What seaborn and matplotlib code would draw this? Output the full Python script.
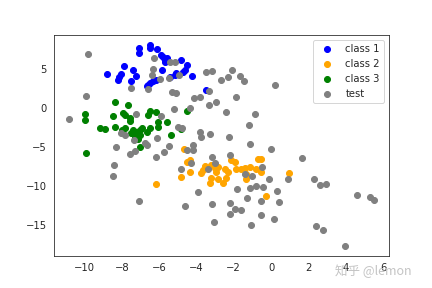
import matplotlib
matplotlib.use("Agg")
import matplotlib.pyplot as plt
import seaborn as sns
import pandas as pd

# class 1 (blue)
c1_x = [-7.07, -7.09, -6.50, -6.50, -6.11, -5.87, -5.79, -5.70, -5.60, -5.70, -4.80, -4.53,
        -4.72, -5.07, -5.16, -4.24, -5.82, -6.14, -6.32, -6.50, -6.59, -6.67, -7.39, -7.25,
        -7.48, -7.89, -8.06, -8.14, -8.19, -8.78, -3.47, -5.43, -4.59]
c1_y = [7.67, 7.02, 8.10, 7.67, 7.58, 6.80, 6.58, 6.14, 6.37, 5.92, 6.14, 5.49,
        4.61, 4.48, 4.31, 4.18, 4.84, 3.62, 3.44, 3.18, 3.01, 2.88, 4.93, 4.18,
        3.44, 5.36, 4.41, 3.96, 3.62, 4.41, 2.31, 3.96, 4.84]

# class 2 (orange)
c2_x = [-6.14, -4.66, -4.53, -4.36, -4.36, -4.84, -3.73, -3.65, -3.56, -3.20, -3.02, -2.84,
        -2.93, -3.20, -3.29, -2.84, -2.58, -2.40, -2.49, -2.31, -2.13, -1.95, -1.86, -1.59,
        -1.42, -1.33, -1.33, -1.15, -0.71, -0.52, -0.79, -0.52, -0.26, 0.95]
c2_y = [-9.71, -5.23, -6.93, -6.67, -8.10, -8.85, -8.24, -7.97, -7.45, -7.32, -7.71, -7.58,
        -8.20, -8.89, -9.54, -9.06, -9.54, -8.89, -7.78, -8.20, -6.60, -6.93, -7.78, -7.80,
        -7.67, -8.41, -9.06, -7.58, -6.54, -6.54, -7.84, -8.20, -11.24, -8.24]

# class 3 (green)
c3_x = [-8.37, -7.66, -7.93, -7.83, -7.57, -7.57, -8.46, -8.37, -9.17, -8.90, -9.97, -9.97,
        -6.50, -6.14, -6.59, -6.05, -5.60, -6.05, -6.50, -6.67, -6.94, -7.03, -7.03, -7.21,
        -7.39, -7.48, -7.83, -8.01, -7.30, -7.12, -5.34, -4.80, -4.53, -9.90, -7.03]
c3_y = [0.82, 0.39, -0.61, -0.82, -1.27, -1.61, -1.05, -2.35, -2.48, -2.65, -0.75, -1.48,
        -0.39, -0.48, -0.82, -1.79, -1.79, -2.35, -2.58, -3.01, -2.58, -2.78, -3.44, -3.01,
        -2.78, -3.23, -2.58, -2.78, -3.66, -3.96, -3.44, -2.65, -0.39, -5.79, -4.93]

# test (grey)
t_x = [-9.80, -6.28, -6.32, -6.37, -5.93, -7.53, -6.60, -9.90, -10.83, -7.26, -5.89, -8.06,
       -7.80, -7.35, -6.73, -6.11, -8.29, -5.43, -5.12, -4.95, -5.48, -3.47, -3.14, -2.10,
       -2.66, -2.31, -1.65, -1.45, 0.21, -3.30, -5.30, -5.07, -4.13, -3.80, -1.90, -3.33,
       -2.93, -5.20, -4.36, -2.43, -0.87, -4.98, -4.77, -3.81, -3.74, -3.26, -2.26, -1.19,
       -1.12, -5.45, -4.20, 0.01, -7.58, -7.29, -6.67, -6.19, -5.72, -8.41, -8.46, -7.07,
       -4.52, -4.18, -4.29, -3.91, -4.63, -3.16, -3.00, -3.38, -3.17, -3.06, -4.84, -2.18,
       -1.42, -1.02, -0.12, -1.83, -1.15, -0.79, -0.45, -1.27, -0.52, 0.32, -2.20, -1.95,
       -1.63, -2.20, -1.10, -0.55, 0.14, 1.67, -0.47, 0.90, 2.29, 2.60, 2.93, 0.42,
       2.43, 2.78, 3.94, 4.58, 5.28, 5.51]
t_y = [6.93, 6.44, 5.06, 4.27, 3.75, 2.58, 2.44, 1.57, -1.35, -0.69, -1.05, -3.14,
       -3.49, -4.09, -4.44, -3.75, -4.97, 5.92, 5.92, 4.27, 3.83, 4.61, 4.71, 4.93,
       3.66, 3.96, 4.18, 3.53, 3.01, 2.16, 2.09, 1.92, 1.31, 1.40, 1.40, 0.35,
       0.75, -0.04, 0.04, -0.43, -0.69, -2.44, -2.58, -3.01, -3.66, -3.27, -3.69, -2.13,
       -4.58, -4.90, -4.71, -5.27, -5.82, -5.42, -4.75, -6.30, -5.56, -7.23, -8.67, -11.92,
       -5.32, -5.39, -6.99, -10.75, -12.46, -6.30, -6.95, -7.75, -12.31, -14.58, -7.84, -6.04,
       -8.37, -8.72, -9.05, -10.35, -10.20, -9.96, -10.07, -11.54, -11.92, -10.61, -12.09, -12.84,
       -12.97, -13.49, -14.93, -13.62, -14.22, -6.43, -7.58, -9.08, -9.05, -9.84, -9.67, -12.05,
       -15.03, -15.58, -17.67, -11.15, -11.33, -11.80]

labels = ["class 1", "class 2", "class 3", "test"]
colors = ["blue", "orange", "green", "grey"]
xticks = [-10, -8, -6, -4, -2, 0, 2, 4, 6]
yticks = [-15, -10, -5, 0, 5]

sns.set_style("white")
plt.rcParams["font.family"] = ["DejaVu Sans"]

fig, ax = plt.subplots(figsize=(6, 4), dpi=72)

for xs, ys, lab, col in zip([c1_x, c2_x, c3_x, t_x], [c1_y, c2_y, c3_y, t_y], labels, colors):
    df = pd.DataFrame({"x": xs, "y": ys})
    sns.scatterplot(data=df, x="x", y="y", color=col, label=lab, s=36,
                    linewidth=1, edgecolor=col, ax=ax)

ax.set_xlim(-11.63, 6.31)
ax.set_ylim(-18.95, 9.42)
ax.set_xticks(xticks)
ax.set_yticks(yticks)
ax.set_xlabel("")
ax.set_ylabel("")
ax.legend(loc="upper right")

fig.text(0.776, 0.045, "知乎 @lemon", color="#c4c4c4", fontsize=12.5,
         family=["Noto Sans CJK SC", "DejaVu Sans"])

fig.savefig("out.png", dpi=72)
